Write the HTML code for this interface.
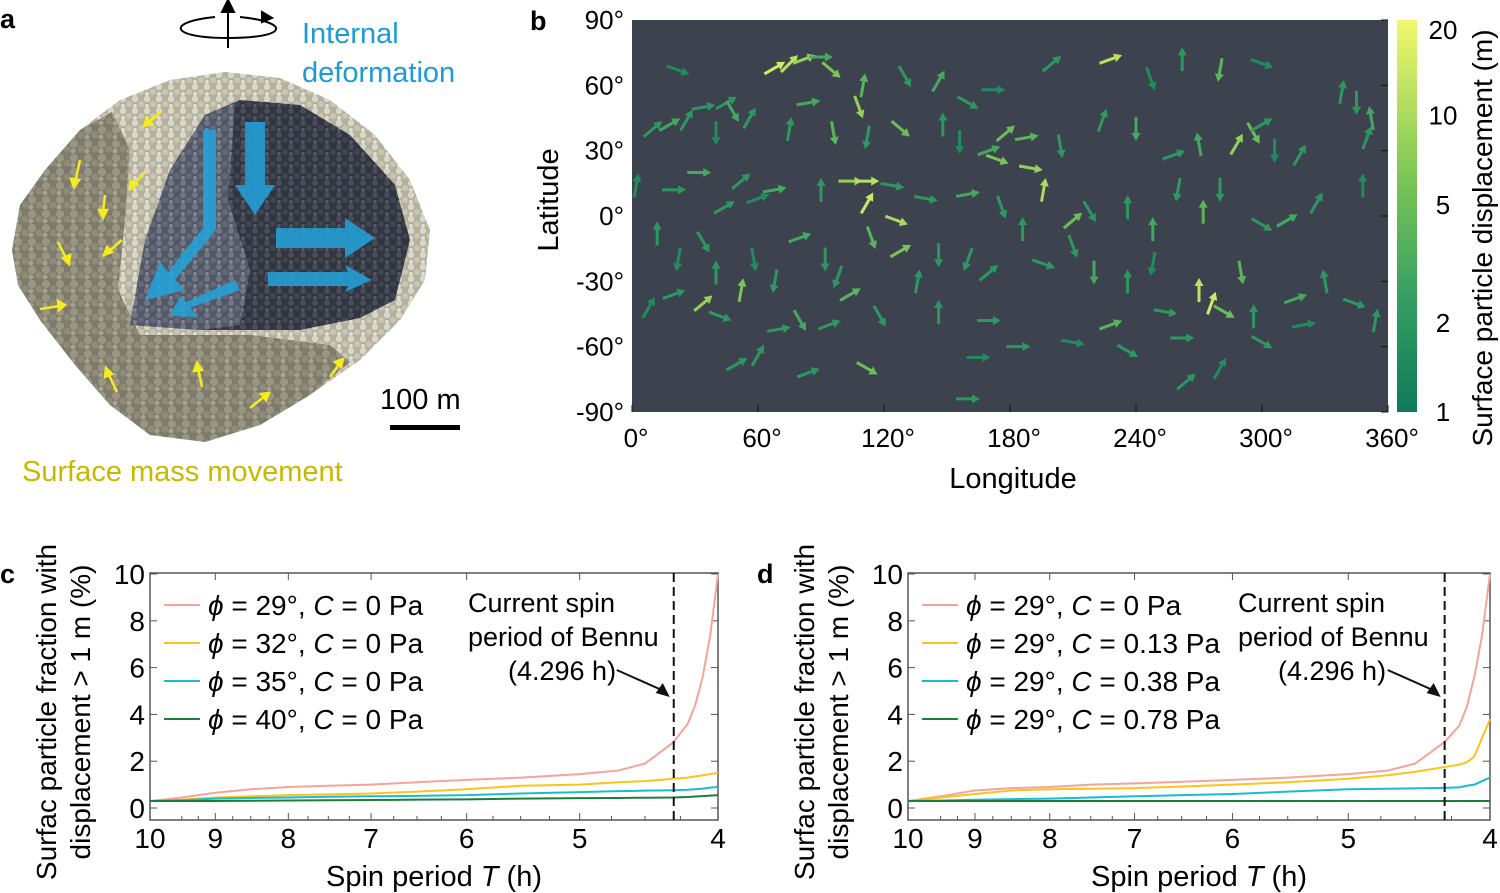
<!DOCTYPE html>
<html><head><meta charset="utf-8"><style>
html,body{margin:0;padding:0;background:#fff;}
body{width:1500px;height:893px;overflow:hidden;position:relative;font-family:"Liberation Sans",sans-serif;}
svg{position:absolute;left:0;top:0;}
</style></head><body>
<svg id="fig" width="1500" height="893" viewBox="0 0 1500 893" font-family="Liberation Sans, sans-serif">
<defs>
<pattern id="pebbles" width="14" height="14" patternUnits="userSpaceOnUse">
<rect width="14" height="14" fill="#7e7b6c"/>
<circle cx="4" cy="4" r="4" fill="#9a9684"/><circle cx="11" cy="9" r="3.5" fill="#8f8b79"/><circle cx="3" cy="11" r="2.5" fill="#a6a290"/>
</pattern>
<pattern id="pebblesLight" width="12" height="12" patternUnits="userSpaceOnUse">
<rect width="12" height="12" fill="#b3b09e"/>
<circle cx="3" cy="3" r="3.2" fill="#d8d6c6"/><circle cx="9" cy="8" r="3" fill="#c9c6b4"/><circle cx="3" cy="10" r="2" fill="#e2e0d2"/>
</pattern>
<pattern id="pebblesDark" width="12" height="12" patternUnits="userSpaceOnUse">
<rect width="12" height="12" fill="#31353f"/>
<circle cx="3" cy="3" r="3" fill="#474c58"/><circle cx="9" cy="8" r="3" fill="#3f4450"/><circle cx="3" cy="10" r="2" fill="#525764"/>
</pattern>
<pattern id="pebblesMid" width="12" height="12" patternUnits="userSpaceOnUse">
<rect width="12" height="12" fill="#5c6170"/>
<circle cx="3" cy="3" r="3" fill="#7a8090"/><circle cx="9" cy="8" r="3" fill="#6d7282"/><circle cx="3" cy="10" r="2" fill="#8a90a0"/>
</pattern>
<linearGradient id="cbar" x1="0" y1="1" x2="0" y2="0">
<stop offset="0" stop-color="#0f7a5a"/><stop offset="0.3" stop-color="#36a062"/><stop offset="0.6" stop-color="#7cc655"/><stop offset="1" stop-color="#f2f86c"/>
</linearGradient>
</defs>

<!-- Panel a -->
<g>
<text x="0" y="28" font-size="27" font-weight="bold">a</text>
<g stroke="#000" fill="none" stroke-width="2">
<line x1="228" y1="48" x2="228" y2="4"/><polygon points="222,12 228,0 234,12" fill="#000"/>
<path d="M240,17 C290,22 290,38 228,38 C170,38 165,22 215,17"/>
<polygon points="262,12 272,18 262,22" fill="#000"/>
</g>
<text x="302" y="43" font-size="29" fill="#1e9ad6">Internal</text>
<text x="302" y="82" font-size="29" fill="#1e9ad6">deformation</text>
<g>
<polygon points="12,250 20,205 45,170 80,130 120,100 170,80 225,72 280,78 330,100 375,135 410,180 430,230 425,280 400,320 360,360 310,395 260,425 205,442 150,435 110,405 75,365 40,320 18,285" fill="url(#pebblesLight)"/>
<polygon points="12,250 20,205 45,170 80,130 112,112 130,150 125,220 118,290 140,335 250,335 330,345 350,362 310,395 260,425 205,442 150,435 110,405 75,365 40,320 18,285" fill="url(#pebbles)"/>
<polygon points="130,325 145,240 170,170 205,115 240,100 300,105 350,135 395,185 410,240 395,300 360,318 300,330 200,330" fill="url(#pebblesDark)"/>
<polygon points="130,325 145,240 170,170 205,115 235,103 228,200 250,270 240,325 200,330" fill="url(#pebblesMid)" opacity="0.8"/>
</g>
<g fill="#22a4dc" opacity="0.85">
<polygon points="245,122 265,122 265,185 275,185 255,215 235,185 245,185"/>
<polygon points="203,130 216,130 216,230 175,280 185,290 145,300 160,262 168,272 203,228"/>
<polygon points="235,280 240,290 190,308 198,317 170,316 180,296 186,302"/>
<polygon points="276,228 345,228 345,218 375,238 345,258 345,248 276,248"/>
<polygon points="268,272 348,272 345,265 372,280 345,292 348,286 268,286"/>
</g>
<g stroke="#f5ec1e" stroke-width="2.5" fill="#f5ec1e">
<line x1="162" y1="111" x2="148" y2="123"/><polygon points="144,126 147,118 152,124"/>
<line x1="80" y1="160" x2="75" y2="183"/><polygon points="74,187 71,179 79,180"/>
<line x1="145" y1="172" x2="133" y2="185"/><polygon points="130,189 131,181 137,185"/>
<line x1="105" y1="195" x2="103" y2="213"/><polygon points="103,218 99,210 107,210"/>
<line x1="122" y1="240" x2="108" y2="252"/><polygon points="104,255 107,247 112,252"/>
<line x1="58" y1="242" x2="67" y2="260"/><polygon points="69,264 63,258 70,255"/>
<line x1="40" y1="309" x2="60" y2="306"/><polygon points="65,305 58,301 59,310"/>
<line x1="117" y1="392" x2="108" y2="373"/><polygon points="106,368 105,377 112,374"/>
<line x1="202" y1="387" x2="198" y2="368"/><polygon points="197,363 194,371 202,370"/>
<line x1="250" y1="408" x2="265" y2="396"/><polygon points="269,393 261,394 266,400"/>
<line x1="330" y1="377" x2="340" y2="363"/><polygon points="343,359 335,362 341,367"/>
</g>
<text x="380" y="409" font-size="29">100 m</text>
<rect x="390" y="425" width="70" height="5" fill="#000"/>
<text x="22" y="481" font-size="29" fill="#c9b800">Surface mass movement</text>
</g>

<!-- Panel b -->
<g id="panelB">
<text x="530" y="30" font-size="27" font-weight="bold">b</text>
<rect x="632" y="20" width="756" height="392" fill="#3d434e"/>
<g id="arrowsB"></g>
<g id="ticksB"></g>
<text x="1013" y="488" font-size="29" text-anchor="middle">Longitude</text>
<text transform="translate(558,200) rotate(-90)" font-size="29" text-anchor="middle">Latitude</text>
<rect x="1397" y="20" width="20" height="392" fill="url(#cbar)"/>
<g id="cbTicks"></g>
<text transform="translate(1492,238) rotate(-90)" font-size="28" text-anchor="middle">Surface particle displacement (m)</text>
</g>

<!-- Panel c / d -->
<g id="panelC">
<text x="0" y="583" font-size="27" font-weight="bold">c</text>
</g>
<g id="panelD">
<text x="757" y="583" font-size="27" font-weight="bold">d</text>
</g>
</svg>
<script>
const NS='http://www.w3.org/2000/svg';
function mk(tag,attrs,parent){const e=document.createElementNS(NS,tag);for(const k in attrs)e.setAttribute(k,attrs[k]);parent.appendChild(e);return e;}

// ---------- Panel b data ----------
const arrowLon=[22,68,75,82,90,95,110,130,146,160,172,200,228,247,262,280,300,338,345,352,10,18,26,34,40,45,48,56,75,84,96,108,112,128,148,156,170,178,188,174,190,204,224,240,258,270,288,296,300,306,318,350,2,20,32,44,52,60,68,90,104,112,112,124,126,140,160,176,196,210,218,236,248,260,272,280,300,312,326,348,12,22,34,40,58,68,80,92,98,114,128,136,146,160,170,186,196,210,220,236,248,270,276,282,290,296,316,330,344,354,8,20,34,42,52,70,80,94,104,118,146,170,184,210,228,236,254,262,300,320,50,60,84,112,160,165,264,280];
const arrowLat=[67,68,70,72,73,67,60,64,62,52,58,70,72,63,72,67,70,57,52,45,40,42,44,50,38,52,48,45,40,52,38,50,36,40,42,34,30,38,36,26,22,32,44,40,28,33,33,38,42,30,28,36,14,12,20,4,16,8,12,12,16,16,6,14,-2,8,10,4,12,-2,2,4,-6,12,2,12,-4,-2,6,14,-8,-20,-12,-26,-20,-30,-10,-20,-28,-10,-16,-30,-18,-20,-26,-6,-22,-14,-26,-30,-22,-34,-40,-44,-26,-46,-38,-30,-40,-48,-42,-36,-40,-46,-34,-52,-48,-50,-36,-46,-44,-48,-60,-58,-50,-62,-44,-56,-58,-50,-68,-64,-72,-70,-84,-65,-76,-70];
const arrowAng=[20,-30,-45,-20,0,40,-80,60,-60,30,0,-40,-20,70,-90,100,20,-80,90,-100,-40,-30,-60,-10,90,-30,60,-60,-80,-10,80,70,100,40,-90,90,-20,-40,-10,20,10,80,-70,90,-20,-100,-60,60,-30,90,-60,-70,-80,0,0,-30,-40,-20,-10,-90,0,0,-60,10,20,10,-10,70,-80,-40,60,-90,-90,100,-90,90,30,-30,-60,-90,-90,100,60,-90,80,100,-20,90,110,70,-30,-80,90,110,-40,-90,20,70,90,-90,100,-90,-70,30,80,-90,-20,-100,20,-80,-60,-20,-40,20,-80,-10,60,-20,-30,60,-90,0,0,10,-20,30,10,0,30,-10,-30,-60,-20,30,0,0,-40,-60];
const arrowDisp=[1.5,15,12,8,3,6,4,2,3,2,1.5,2,12,1.5,2,4,1.5,2,2,3,2,3,2,2,1.5,2,3,2,2,3,4,8,2,5,2,1.5,3,5,4,6,8,2,2,3,2,3,8,5,2,1.5,2,2,1.5,2,3,2,2,1.5,3,2,8,12,14,2,10,2,3,2,10,5,2,2,3,2,4,2,2,3,2,1.5,2,1.5,2,2,1.5,2,3,2,2,4,6,2,2,2,2,2,2,2,3,2,1.5,12,15,5,4,2,3,2,2,2,1.5,2,8,2,6,2,3,2,4,2,2,2,2,1.5,4,2,2,2,2,1.5,2,2,2,5,2,1.5,2,1.5];
const lonTicks=[0,60,120,180,240,300,360];
const latTicks=[90,60,30,0,-30,-60,-90];
const cbTicks=[1,2,5,10,20];

const bX=lon=>632+lon/360*756;
const bY=lat=>216-lat/90*196;
const cScale=d=>{const t=Math.max(0,Math.min(1,Math.log(d)/Math.log(21)));return 412-t*392;};
function dispColor(d){
  const t=Math.max(0,Math.min(1,Math.log(d)/Math.log(21)));
  const st=[[0,[15,122,90]],[0.3,[54,160,98]],[0.6,[124,198,85]],[1,[242,248,108]]];
  for(let i=0;i<st.length-1;i++){if(t<=st[i+1][0]){const f=(t-st[i][0])/(st[i+1][0]-st[i][0]);const a=st[i][1],b=st[i+1][1];return 'rgb('+a.map((v,j)=>Math.round(v+(b[j]-v)*f)).join(',')+')';}}
  return 'rgb(242,248,108)';
}
const gA=document.getElementById('arrowsB');
for(let i=0;i<arrowLon.length;i++){
  const x=bX(arrowLon[i]),y=bY(arrowLat[i]),a=arrowAng[i]*Math.PI/180,L=24;
  const x0=x-Math.cos(a)*L/2,y0=y-Math.sin(a)*L/2,x1=x+Math.cos(a)*L/2,y1=y+Math.sin(a)*L/2;
  const c=dispColor(arrowDisp[i]);
  const g=mk('g',{},gA);
  
  
  mk('line',{x1:x0,y1:y0,x2:x1-Math.cos(a)*4,y2:y1-Math.sin(a)*4,stroke:c,'stroke-width':3},g);
  const px=-Math.sin(a),py=Math.cos(a);
  mk('polygon',{points:`${x1},${y1} ${x1-Math.cos(a)*8+px*4.5},${y1-Math.sin(a)*8+py*4.5} ${x1-Math.cos(a)*8-px*4.5},${y1-Math.sin(a)*8-py*4.5}`,fill:c},g);
}
const gT=document.getElementById('ticksB');
lonTicks.forEach(v=>{
  const t=mk('text',{x:bX(v)+4,y:447,'font-size':26,'text-anchor':'middle'},gT);t.textContent=v+'°';
  
  
  mk('line',{x1:bX(v),y1:412,x2:bX(v),y2:405,stroke:'#111','stroke-width':1},gT);
});
latTicks.forEach(v=>{
  const t=mk('text',{x:624,y:bY(v)+9,'font-size':26,'text-anchor':'end'},gT);t.textContent=v+'°';
  
  
  mk('line',{x1:1388,y1:bY(v),x2:1381,y2:bY(v),stroke:'#111','stroke-width':1},gT);
});
const gC=document.getElementById('cbTicks');
cbTicks.forEach(v=>{
  const y=Math.max(cScale(v),30);
  const t=mk('text',{x:1443,y:y+9,'font-size':26,'text-anchor':'middle'},gC);t.textContent=v;
  
  
});

// ---------- Panels c, d data ----------
const periodTicks=[10,9,8,7,6,5,4];
const fracTicks=[0,2,4,6,8,10];
const cPeriods=[10,9.5,9,8.5,8,7.5,7,6.5,6,5.5,5,4.7,4.5,4.3,4.2,4.15,4.1,4.05,4];
const cPhi29=[0.3,0.45,0.65,0.8,0.9,0.95,1.0,1.1,1.2,1.3,1.45,1.6,1.9,2.8,3.6,4.4,5.6,7.4,10];
const cPhi32=[0.3,0.35,0.45,0.5,0.55,0.58,0.62,0.7,0.8,0.95,1.0,1.1,1.15,1.25,1.3,1.35,1.4,1.45,1.5];
const cPhi35=[0.3,0.33,0.4,0.43,0.45,0.48,0.5,0.52,0.55,0.62,0.68,0.72,0.74,0.76,0.78,0.8,0.83,0.87,0.9];
const cPhi40=[0.3,0.3,0.3,0.31,0.32,0.33,0.34,0.36,0.37,0.4,0.42,0.43,0.44,0.45,0.47,0.49,0.51,0.53,0.55];
const dC0=[0.3,0.5,0.75,0.85,0.9,1.0,1.05,1.12,1.2,1.3,1.45,1.6,1.9,2.8,3.5,4.3,5.6,7.4,10];
const dC013=[0.3,0.45,0.6,0.75,0.8,0.82,0.85,0.92,1.0,1.1,1.25,1.4,1.55,1.75,1.85,1.95,2.2,3.0,3.8];
const dC038=[0.3,0.32,0.35,0.38,0.4,0.45,0.5,0.55,0.6,0.7,0.8,0.82,0.84,0.86,0.88,0.95,1.0,1.15,1.3];
const dC078=[0.3,0.3,0.3,0.3,0.3,0.3,0.3,0.3,0.3,0.3,0.3,0.3,0.3,0.3,0.3,0.3,0.3,0.3,0.3];
const seriesColors=['#f7a39a','#fcc41a','#19bccf','#1a7f3c'];
const bennuPeriod=4.296;

function drawPanel(gid,x0,x1,series,labels,annX){
  const g=document.getElementById(gid);
  const top=573,bot=820;
  const xS=T=>x0+(Math.log(10)-Math.log(T))/(Math.log(10)-Math.log(4))*(x1-x0);
  const yS=v=>808-v*23.4;
  const fr=mk('rect',{x:x0,y:top,width:x1-x0,height:bot-top,fill:'none',stroke:'#555','stroke-width':1.5},g);
  
  
  periodTicks.forEach(T=>{
    mk('line',{x1:xS(T),y1:bot,x2:xS(T),y2:bot-7,stroke:'#555'},g);
    mk('line',{x1:xS(T),y1:top,x2:xS(T),y2:top+7,stroke:'#555'},g);
    const t=mk('text',{x:xS(T),y:848,'font-size':28,'text-anchor':'middle'},g);t.textContent=T;
    
    
  });
  for(let T=9.5;T>4;T-=0.25){ if(Math.abs(T-Math.round(T))<0.01) continue;
    mk('line',{x1:xS(T),y1:bot,x2:xS(T),y2:bot-4,stroke:'#555'},g);}
  fracTicks.forEach(v=>{
    mk('line',{x1:x0,y1:yS(v),x2:x0+7,y2:yS(v),stroke:'#555'},g);
    mk('line',{x1:x1,y1:yS(v),x2:x1-7,y2:yS(v),stroke:'#555'},g);
    const t=mk('text',{x:x0-5,y:yS(v)+10,'font-size':28,'text-anchor':'end'},g);t.textContent=v;
    
    
  });
  series.forEach((s,i)=>{
    const p=mk('polyline',{points:cPeriods.map((T,j)=>xS(T)+','+yS(s[j])).join(' '),fill:'none',stroke:seriesColors[i],'stroke-width':2},g);
    
    
  });
  const dl=mk('line',{x1:xS(bennuPeriod),y1:top,x2:xS(bennuPeriod),y2:bot,stroke:'#111','stroke-width':2,'stroke-dasharray':'9,5'},g);
  
  
  labels.forEach((lb,i)=>{
    const y=605+i*38;
    mk('line',{x1:x0+14,y1:y,x2:x0+50,y2:y,stroke:seriesColors[i],'stroke-width':2},g);
    const t=mk('text',{x:x0+58,y:y+10,'font-size':28},g);
    t.innerHTML='<tspan font-style="italic">ϕ</tspan> = '+lb[0]+'°, <tspan font-style="italic">C</tspan> = '+lb[1]+' Pa';
    
    
  });
  const a1=mk('text',{x:annX,y:612,'font-size':27},g);a1.textContent='Current spin';
  
  
  const a2=mk('text',{x:annX,y:646,'font-size':27},g);a2.textContent='period of Bennu';
  
  
  const a3=mk('text',{x:annX+40,y:680,'font-size':27},g);a3.textContent='(4.296 h)';
  
  
  const ax=xS(bennuPeriod);
  mk('line',{x1:ax-57,y1:670,x2:ax-12,y2:690,stroke:'#111','stroke-width':2},g);
  mk('polygon',{points:`${ax-4},${697} ${ax-18},${693} ${ax-11},${683}`,fill:'#111'},g);
  const xt=mk('text',{x:(x0+x1)/2,y:886,'font-size':29,'text-anchor':'middle'},g);
  xt.innerHTML='Spin period  <tspan font-style="italic">T</tspan>  (h)';
  
  
  const y1=mk('text',{transform:`translate(${x0-94},${712}) rotate(-90)`,'font-size':28,'text-anchor':'middle'},g);
  y1.textContent='Surfac particle fraction with';
  
  
  const y2=mk('text',{transform:`translate(${x0-60},${712}) rotate(-90)`,'font-size':28,'text-anchor':'middle'},g);
  y2.textContent='displacement > 1 m (%)';
  
  
}
drawPanel('panelC',150,718,[cPhi29,cPhi32,cPhi35,cPhi40],[['29','0'],['32','0'],['35','0'],['40','0']],468);
drawPanel('panelD',908,1490,[dC0,dC013,dC038,dC078],[['29','0'],['29','0.13'],['29','0.38'],['29','0.78']],1238);
</script>
</body></html>
